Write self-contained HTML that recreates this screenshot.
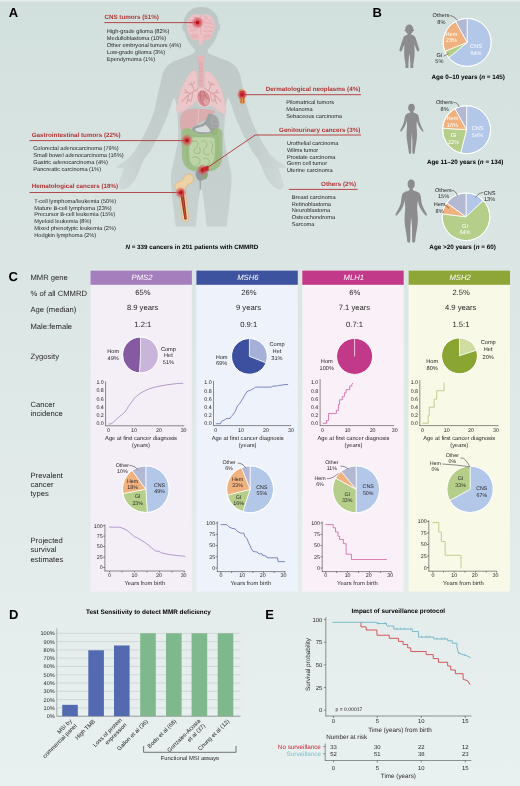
<!DOCTYPE html>
<html lang="en"><head><meta charset="utf-8"><title>CMMRD figure</title>
<style>html,body{margin:0;padding:0;background:#dbe7e5}svg{display:block}svg{font-family:"Liberation Sans",sans-serif;fill:#231f20;text-rendering:geometricPrecision}</style>
</head><body>
<svg width="520" height="786" viewBox="0 0 520 786">
<defs><linearGradient id="bg" x1="0" y1="0" x2="0" y2="1"><stop offset="0" stop-color="#d2e0dd"/><stop offset="0.33" stop-color="#dbe6e4"/><stop offset="1" stop-color="#e9f0f0"/></linearGradient><radialGradient id="tm"><stop offset="0" stop-color="#a80f1c"/><stop offset="0.22" stop-color="#b81824"/><stop offset="0.3" stop-color="#cf3a44" stop-opacity="0.85"/><stop offset="0.55" stop-color="#dc5a62" stop-opacity="0.6"/><stop offset="0.8" stop-color="#e88088" stop-opacity="0.4"/><stop offset="1" stop-color="#f0a0a6" stop-opacity="0"/></radialGradient></defs>
<rect width="520" height="786" fill="url(#bg)"/>
<rect width="520" height="1.5" fill="#e6eeec"/>
<text x="8.80" y="17.30" font-size="13" font-weight="bold" fill="#000">A</text>
<defs><radialGradient id="bodyg" gradientUnits="userSpaceOnUse" cx="201.2" cy="120" r="92" gradientTransform="translate(0 120) scale(1 6) translate(0 -120)"><stop offset="0" stop-color="#c7d1d0"/><stop offset="0.62" stop-color="#c8d2d1"/><stop offset="0.95" stop-color="#d2dcdb"/></radialGradient></defs>
<path d="M201.2,6.9 C211.0,6.8 218.0,13.0 218.6,22.0 C218.7,22.5 218.7,23.0 218.7,23.4 C219.8,23.2 220.4,24.8 220.2,27.0 C220.0,29.5 219.2,31.2 218.0,31.3 C217.2,36.0 215.0,41.0 212.0,44.8 C210.6,46.6 209.0,48.2 207.6,49.4 L207.6,52.2 C210.5,55.0 219.0,57.5 226.7,60.5 C230.5,62.0 234.0,64.5 236.4,67.5 C238.8,70.5 240.4,75.0 241.2,80.0 C242.5,86.0 243.6,90.0 244.6,94.2 C245.5,99.0 246.4,103.0 247.4,107.7 C248.6,112.5 250.2,117.0 252.0,121.2 C253.6,125.0 255.4,129.0 257.3,132.7 C258.8,136.0 260.6,139.2 262.5,142.3 C264.4,145.6 266.2,148.8 268.5,151.9 C270.5,154.5 273.0,157.5 276.9,160.6 C279.5,162.5 283.0,164.5 285.6,166.0 C286.2,166.8 285.4,167.8 284.4,167.7 C282.0,168.2 280.0,168.0 278.4,167.7 C279.4,170.0 280.0,172.5 280.6,174.8 C281.6,177.5 282.6,180.0 283.3,182.7 C284.0,185.0 283.8,187.5 282.7,188.6 C281.8,189.8 280.6,190.0 279.6,189.6 C277.8,189.2 276.0,188.4 274.4,187.3 C273.0,186.4 272.0,185.2 271.0,183.8 C270.0,183.0 269.4,182.4 268.8,181.5 C267.4,179.6 266.4,177.8 265.4,175.8 C264.0,173.0 263.0,170.4 262.0,167.7 C260.8,165.0 259.8,162.2 258.5,159.6 C256.5,157.0 254.5,154.2 252.2,151.5 C250.8,148.8 249.4,146.0 248.0,143.5 C247.0,141.8 246.2,140.2 245.2,138.5 C243.2,134.8 241.4,130.8 239.8,126.9 C238.0,123.0 236.4,119.2 234.8,115.4 C233.4,111.5 232.0,107.0 230.6,102.5 C230.0,100.5 229.0,98.5 228.2,97.5 C227.0,100.0 226.0,103.5 225.4,106.5 C225.0,110.5 224.9,114.0 224.8,118.0 C224.6,122.0 224.2,126.0 224.2,129.6 C224.2,133.5 224.2,137.5 224.6,141.0 C225.0,145.0 226.0,149.0 226.9,152.7 C227.8,156.5 228.6,160.5 229.2,164.0 C230.0,167.0 230.8,170.0 231.2,173.0 C231.6,178.0 231.6,181.0 231.4,184.0 C230.8,192.0 229.8,200.0 229.0,208.0 C228.2,215.0 227.3,221.0 226.8,226.4 L206.7,226.4 C205.8,218.0 204.8,209.0 203.8,201.0 C203.1,195.5 202.2,190.5 201.2,187.6 C200.2,190.5 199.3,195.5 198.6,201.0 C197.6,209.0 196.6,218.0 195.7,226.4 L175.6,226.4 C175.1,221.0 174.2,215.0 173.4,208.0 C172.6,200.0 171.6,192.0 171.0,184.0 C170.8,181.0 170.8,178.0 171.2,173.0 C171.6,170.0 172.4,167.0 173.2,164.0 C173.8,160.5 174.6,156.5 175.5,152.7 C176.4,149.0 177.4,145.0 177.8,141.0 C178.2,137.5 178.2,133.5 178.2,129.6 C178.2,126.0 177.8,122.0 177.6,118.0 C177.5,114.0 177.4,110.5 177.0,106.5 C176.4,103.5 175.4,100.0 174.2,97.5 C173.4,98.5 172.4,100.5 171.8,102.5 C170.4,107.0 169.0,111.5 167.6,115.4 C166.0,119.2 164.4,123.0 162.6,126.9 C161.0,130.8 159.2,134.8 157.2,138.5 C156.2,140.2 155.4,141.8 154.4,143.5 C153.0,146.0 151.6,148.8 150.2,151.5 C147.9,154.2 145.9,157.0 143.9,159.6 C142.6,162.2 141.6,165.0 140.4,167.7 C139.4,170.4 138.4,173.0 137.0,175.8 C136.0,177.8 135.0,179.6 133.6,181.5 C133.0,182.4 132.4,183.0 131.4,183.8 C130.4,185.2 129.4,186.4 128.0,187.3 C126.4,188.4 124.6,189.2 122.8,189.6 C121.8,190.0 120.6,189.8 119.7,188.6 C118.6,187.5 118.4,185.0 119.1,182.7 C119.8,180.0 120.8,177.5 121.8,174.8 C122.4,172.5 123.0,170.0 124.0,167.7 C122.4,168.0 120.4,168.2 118.0,167.7 C117.0,167.8 116.2,166.8 116.8,166.0 C119.4,164.5 122.9,162.5 125.5,160.6 C129.4,157.5 131.9,154.5 133.9,151.9 C136.2,148.8 138.0,145.6 139.9,142.3 C141.8,139.2 143.6,136.0 145.1,132.7 C147.0,129.0 148.8,125.0 150.4,121.2 C152.2,117.0 153.8,112.5 155.0,107.7 C156.0,103.0 156.9,99.0 157.8,94.2 C158.8,90.0 159.9,86.0 161.2,80.0 C162.0,75.0 163.6,70.5 166.0,67.5 C168.4,64.5 171.9,62.0 175.7,60.5 C183.4,57.5 191.9,55.0 194.8,52.2 L194.8,49.4 C193.4,48.2 191.8,46.6 190.4,44.8 C187.4,41.0 185.2,36.0 184.4,31.3 C183.2,31.2 182.4,29.5 182.2,27.0 C182.0,24.8 182.6,23.2 183.7,23.4 C183.7,23.0 183.7,22.5 183.8,22.0 C184.4,13.0 191.4,6.8 201.2,6.9 Z" fill="url(#bodyg)"/>
<defs><linearGradient id="bodyv" gradientUnits="userSpaceOnUse" x1="0" y1="5" x2="0" y2="227"><stop offset="0" stop-color="#5a6665" stop-opacity="0.1"/><stop offset="0.55" stop-color="#5a6665" stop-opacity="0.04"/><stop offset="1" stop-color="#5a6665" stop-opacity="0"/></linearGradient></defs>
<path d="M201.2,6.9 C211.0,6.8 218.0,13.0 218.6,22.0 C218.7,22.5 218.7,23.0 218.7,23.4 C219.8,23.2 220.4,24.8 220.2,27.0 C220.0,29.5 219.2,31.2 218.0,31.3 C217.2,36.0 215.0,41.0 212.0,44.8 C210.6,46.6 209.0,48.2 207.6,49.4 L207.6,52.2 C210.5,55.0 219.0,57.5 226.7,60.5 C230.5,62.0 234.0,64.5 236.4,67.5 C238.8,70.5 240.4,75.0 241.2,80.0 C242.5,86.0 243.6,90.0 244.6,94.2 C245.5,99.0 246.4,103.0 247.4,107.7 C248.6,112.5 250.2,117.0 252.0,121.2 C253.6,125.0 255.4,129.0 257.3,132.7 C258.8,136.0 260.6,139.2 262.5,142.3 C264.4,145.6 266.2,148.8 268.5,151.9 C270.5,154.5 273.0,157.5 276.9,160.6 C279.5,162.5 283.0,164.5 285.6,166.0 C286.2,166.8 285.4,167.8 284.4,167.7 C282.0,168.2 280.0,168.0 278.4,167.7 C279.4,170.0 280.0,172.5 280.6,174.8 C281.6,177.5 282.6,180.0 283.3,182.7 C284.0,185.0 283.8,187.5 282.7,188.6 C281.8,189.8 280.6,190.0 279.6,189.6 C277.8,189.2 276.0,188.4 274.4,187.3 C273.0,186.4 272.0,185.2 271.0,183.8 C270.0,183.0 269.4,182.4 268.8,181.5 C267.4,179.6 266.4,177.8 265.4,175.8 C264.0,173.0 263.0,170.4 262.0,167.7 C260.8,165.0 259.8,162.2 258.5,159.6 C256.5,157.0 254.5,154.2 252.2,151.5 C250.8,148.8 249.4,146.0 248.0,143.5 C247.0,141.8 246.2,140.2 245.2,138.5 C243.2,134.8 241.4,130.8 239.8,126.9 C238.0,123.0 236.4,119.2 234.8,115.4 C233.4,111.5 232.0,107.0 230.6,102.5 C230.0,100.5 229.0,98.5 228.2,97.5 C227.0,100.0 226.0,103.5 225.4,106.5 C225.0,110.5 224.9,114.0 224.8,118.0 C224.6,122.0 224.2,126.0 224.2,129.6 C224.2,133.5 224.2,137.5 224.6,141.0 C225.0,145.0 226.0,149.0 226.9,152.7 C227.8,156.5 228.6,160.5 229.2,164.0 C230.0,167.0 230.8,170.0 231.2,173.0 C231.6,178.0 231.6,181.0 231.4,184.0 C230.8,192.0 229.8,200.0 229.0,208.0 C228.2,215.0 227.3,221.0 226.8,226.4 L206.7,226.4 C205.8,218.0 204.8,209.0 203.8,201.0 C203.1,195.5 202.2,190.5 201.2,187.6 C200.2,190.5 199.3,195.5 198.6,201.0 C197.6,209.0 196.6,218.0 195.7,226.4 L175.6,226.4 C175.1,221.0 174.2,215.0 173.4,208.0 C172.6,200.0 171.6,192.0 171.0,184.0 C170.8,181.0 170.8,178.0 171.2,173.0 C171.6,170.0 172.4,167.0 173.2,164.0 C173.8,160.5 174.6,156.5 175.5,152.7 C176.4,149.0 177.4,145.0 177.8,141.0 C178.2,137.5 178.2,133.5 178.2,129.6 C178.2,126.0 177.8,122.0 177.6,118.0 C177.5,114.0 177.4,110.5 177.0,106.5 C176.4,103.5 175.4,100.0 174.2,97.5 C173.4,98.5 172.4,100.5 171.8,102.5 C170.4,107.0 169.0,111.5 167.6,115.4 C166.0,119.2 164.4,123.0 162.6,126.9 C161.0,130.8 159.2,134.8 157.2,138.5 C156.2,140.2 155.4,141.8 154.4,143.5 C153.0,146.0 151.6,148.8 150.2,151.5 C147.9,154.2 145.9,157.0 143.9,159.6 C142.6,162.2 141.6,165.0 140.4,167.7 C139.4,170.4 138.4,173.0 137.0,175.8 C136.0,177.8 135.0,179.6 133.6,181.5 C133.0,182.4 132.4,183.0 131.4,183.8 C130.4,185.2 129.4,186.4 128.0,187.3 C126.4,188.4 124.6,189.2 122.8,189.6 C121.8,190.0 120.6,189.8 119.7,188.6 C118.6,187.5 118.4,185.0 119.1,182.7 C119.8,180.0 120.8,177.5 121.8,174.8 C122.4,172.5 123.0,170.0 124.0,167.7 C122.4,168.0 120.4,168.2 118.0,167.7 C117.0,167.8 116.2,166.8 116.8,166.0 C119.4,164.5 122.9,162.5 125.5,160.6 C129.4,157.5 131.9,154.5 133.9,151.9 C136.2,148.8 138.0,145.6 139.9,142.3 C141.8,139.2 143.6,136.0 145.1,132.7 C147.0,129.0 148.8,125.0 150.4,121.2 C152.2,117.0 153.8,112.5 155.0,107.7 C156.0,103.0 156.9,99.0 157.8,94.2 C158.8,90.0 159.9,86.0 161.2,80.0 C162.0,75.0 163.6,70.5 166.0,67.5 C168.4,64.5 171.9,62.0 175.7,60.5 C183.4,57.5 191.9,55.0 194.8,52.2 L194.8,49.4 C193.4,48.2 191.8,46.6 190.4,44.8 C187.4,41.0 185.2,36.0 184.4,31.3 C183.2,31.2 182.4,29.5 182.2,27.0 C182.0,24.8 182.6,23.2 183.7,23.4 C183.7,23.0 183.7,22.5 183.8,22.0 C184.4,13.0 191.4,6.8 201.2,6.9 Z" fill="url(#bodyv)"/>
<g><path d="M200.7,16 C199.6,14.4 197,13.8 195,14.6 C192.8,14.6 190.8,15.8 190,17.6 C188.2,18.6 187.2,20.6 187.4,22.6 C186.4,24.4 186.4,26.8 187.2,28.6 C187,30.6 187.8,32.6 189.2,33.8 C189.4,35.8 190.6,37.6 192.4,38.4 C193.8,39.8 196,40.4 198,39.8 L198.6,39.6 L199.2,44 C199.4,45.2 202.2,45.2 202.4,44 L203,39.6 L203.6,39.8 C205.6,40.4 207.8,39.8 209.2,38.4 C211,37.6 212.2,35.8 212.4,33.8 C213.8,32.6 214.6,30.6 214.4,28.6 C215.2,26.8 215.2,24.4 214.2,22.6 C214.4,20.6 213.4,18.6 211.6,17.6 C210.8,15.8 208.8,14.6 206.6,14.6 C204.6,13.8 201.8,14.4 200.7,16 Z" fill="#edc2c6"/><path d="M190.2,34.2 C192.5,32.6 196.4,33 198.6,34.6 L198.8,39.4 C196,40.6 192,39.6 190.2,37 Z M211.4,34.2 C209.1,32.6 205.2,33 203,34.6 L202.8,39.4 C205.600,40.6 209.6,39.6 211.4,37 Z" fill="#ebb9bd"/><path d="M198.7,35 L202.9,35 L202.4,44 C202.2,45.2 199.4,45.2 199.2,44 Z" fill="#eec0c3"/><path d="M200.7,16 C200.3,21 201,28 200.8,34.5 M189.5,20.5 C192,21.5 193.5,20 195.5,21.5 M205,18 C207,20.5 209.5,19.5 211.5,22 M188,26.5 C190.5,25.5 192.5,27.5 194.5,26 M206,26 C208.5,28 210.5,26 213.5,28 M193,16.5 C194,18.5 196.5,17.5 197.5,20 M204,22.5 C206,23.5 207.5,22 209,24 M189.5,31 C191.5,30 193,31.5 195.5,30.5 M206.500,31 C208.500,32 210,30.500 212,32 M196,24.500 C197,26 198.500,25.500 199.500,27.500 M202.500,29 C204,29.500 204.500,31.500 206,32 M191,35.5 C193,36.500 195,35.500 197,37 M204.500,37 C206.500,35.500 208.500,36.500 210.500,35.5 M190,23.5 C192,24 193.5,23 195.5,24.5 M203.5,15.5 C204.5,17.5 206.5,16.5 208,18.5 M208,23 C210,22.5 211.5,24 213.5,24.5 M191.5,28.5 C193.5,29.5 195.5,28 197.5,30 M203,25.5 C204.5,26.5 205,28 207,28.5 M196.5,18 C197.5,19 198.5,18.5 199.5,20.5 M209.5,30.5 C211,30 212,31.5 213.5,31.5 M202.5,19.5 C203.5,21 205,20.5 206,22" fill="none" stroke="#e0a3aa" stroke-width="0.7" stroke-linecap="round"/></g>
<path d="M196.9,55.2 L198.3,55.8 L199.4,55.2 L200.800,55.900 L202.200,55.2 L203.4,55.8 L204.75,55.2 C204.6,57.6 203.8,59.8 203.1,61.4 L203.1,84.8 C203.1,86.4 204.4,87.8 206,88.8 L204.6,90.4 L201.2,87.8 L198,90.8 L196.4,89.4 C197.9,87.900 198.750,86.400 198.750,84.800 L198.75,61.4 C197.900,59.800 197.100,57.600 196.9,55.2 Z" fill="#e8b4b9"/>
<path d="M198.75,62.6 L203.1,62.6 M198.75,64.8 L203.1,64.8 M198.75,67.1 L203.1,67.1 M198.75,69.3 L203.1,69.3 M198.75,71.6 L203.1,71.6 M198.75,73.8 L203.1,73.8 M198.75,76.1 L203.1,76.1 M198.75,78.3 L203.1,78.3 M198.75,80.6 L203.1,80.6 M198.75,82.8 L203.1,82.8 M198.75,85.1 L203.1,85.1" stroke="#dc979e" stroke-width="0.6" fill="none"/>
<path d="M193.4,70 C195.4,70.4 196.8,72.6 197,75.4 C197.4,80 197.5,84 197.5,87.5 C197.5,92 197.3,96 196.9,100 C195.8,102.400 194.200,104 192.5,105 C190,106.8 187.5,108.6 185,110 C182.400,111.500 179.800,112.700 177.5,113.1 C176.6,111 176.6,108.6 176.9,106.25 C177.3,101.800 178.200,97.600 179.4,93.75 C180.800,89.200 182.700,85 185,81.25 C187.200,77.400 190,71.400 193.4,70 Z" fill="#ebc7c9" fill-opacity="0.96" stroke="#e4b6b9" stroke-width="0.5"/>
<path d="M206,71.2 C204.6,72 204.300,73.600 204.4,75 L204.4,86.25 C205.200,88.600 206.400,90.600 207.5,92.5 C208.500,95.800 209.300,99.200 210,102.5 C210.300,103.500 210.700,104.300 211.25,105 C213.200,106.800 215.300,108.500 217.5,110 C219.900,111.900 222.400,113.700 225,115 C225.800,113 225.900,110.900 225.6,108.75 C225.200,104.900 224.600,101.100 223.75,97.5 C222.800,93.500 221.500,89.700 220,86.25 C218.300,82.600 216.200,79.200 213.75,76.25 C211.700,73.800 208.600,70.400 206,71.2 Z" fill="#ebc7c9" fill-opacity="0.96" stroke="#e4b6b9" stroke-width="0.5"/>
<path d="M199,88.5 C196.500,90 193.500,91 190.5,93.5 C188.500,95 186.500,96.500 184.5,99 M194.500,91.2 C193.500,88 192,85 191,82.500 M192.500,84.500 C193.400,83.600 194,82.800 194.5,81.500 M191.800,85 C190.500,84.500 189.500,84.300 188.500,84.500 M190.5,93.5 C188,92.500 186,92.300 184,92.500 M187.500,92.400 C186.800,91.200 186,90.300 185,89.800 M188.500,95.5 C188,98.500 187.500,101 186.500,103.500 M187.800,99 C188.500,100 189.300,100.800 190.300,101.300 M184.5,99 C183.500,99.500 182.500,100.500 182,102 M192.500,92.300 C192.500,95.500 192,98.500 191,101 M204,88.500 C206.500,90 209.500,91 212.5,93.5 C214.500,95 216.500,96.500 218.5,99 M208.500,91.2 C209.500,88 211,85 212,82.500 M210.500,84.500 C209.600,83.600 209,82.800 208.5,81.500 M211.200,85 C212.500,84.500 213.500,84.300 214.500,84.500 M212.5,93.5 C215,92.500 217,92.300 219,92.500 M215.500,92.400 C216.200,91.200 217,90.300 218,89.800 M214.500,95.5 C215,98.500 215.500,101 216.500,103.500 M215.200,99 C214.500,100 213.700,100.800 212.700,101.300 M218.5,99 C219.500,99.500 220.500,100.500 221,102 M210.500,92.300 C210.500,95.500 211,98.500 212,101" fill="none" stroke="#dca2a8" stroke-width="1.05" stroke-linecap="round"/>
<path d="M198.4,88.5 L203.8,88.5 C206,90 208.5,92.5 210,96 C211.5,99.5 211.8,103 211.2,105.6 C208.5,107 204.5,107.4 201.5,106.6 C199,105.8 197.4,103.5 196.9,100.5 C196.9,96 197.4,92 198.4,88.5 Z" fill="#ecccce"/>
<path d="M200.600,90.600 C202.400,89.800 204.600,90.400 206.200,91.800 C208.400,93.600 209.800,96.400 210,99.400 C210.200,102.200 209,104.800 206.800,105.900 C204.600,106.900 202,106 200.200,104.200 C198.400,102.200 197.400,99.400 197.500,96.600 C197.600,94 198.600,91.600 200.600,90.600 Z" fill="#d58d92"/>
<path d="M201.2,91 C199.800,93.500 200,97 201.200,100.500 C202,102.800 203.500,104.800 205.500,105.800 M203.500,90.800 C204.500,93.500 205.500,96.500 207.500,98.500 M198.500,95 C200.500,96 203.500,96.500 206,95.500 M202.500,98 C204.500,99.500 206.500,101.500 207.500,104" fill="none" stroke="#bf6770" stroke-width="0.7"/>
<path d="M205.500,98.500 C207.500,98.600 209,100.200 209,102.200 C208.800,104.200 207.200,105.600 205.400,105.400 C204,104.600 203.400,102.800 203.800,101 C204,99.800 204.600,98.900 205.500,98.500 Z" fill="#dfa3a7"/>
<path d="M180.200,119 C180.400,113.500 184.500,109.800 190,109.200 C196,108.600 203,108.600 209,109.400 C211.500,109.700 213.800,110.300 215,111.250 C214.200,114 211.800,116.400 208.800,118 C205.800,119.800 202.400,121 200,122.500 C196.500,124.800 192.800,127.600 189.200,129.600 C186.600,131 183.600,131.800 181.25,131.25 C180.200,128 180,123.500 180.200,119 Z" fill="#dba9ab" fill-opacity="0.93"/>
<path d="M198.4,108.800 C198.900,112.500 198.500,117.500 197.400,124" fill="none" stroke="#efd0d0" stroke-width="0.5"/>
<path d="M208.500,113.800 C213.500,113.600 217.600,117 218.600,122 C219.600,127 217.800,131.600 213.800,133.400 C209,135.200 201.500,135 196,133.400 C192.800,132.400 191.400,130.200 192.200,128 C194,125.200 199,125.400 202.800,123.400 C206.200,121.400 206.800,117 208.500,113.800 Z" fill="#9ca2a2"/>
<path d="M205.500,124.800 C203,127.200 198.500,127.200 195.500,128.600 C194.600,129.400 195.200,130.600 196.600,131.200 C201,132.600 207,132.800 210.600,131.400 C209.600,129 207.600,126.600 205.500,124.800 Z" fill="#d6dcdb"/>
<ellipse cx="214.800" cy="123" rx="4.400" ry="8.200" fill="#a9aaaa" fill-opacity="0.85" transform="rotate(-8 214.8 123)"/>
<path d="M212.500,117.500 C214,118.500 215.500,118 216.500,119.500 M212,121.500 C214,122 215.500,121 217.500,122.500 M212.500,125.500 C214,126.500 216,125.500 217.500,127 M213,129 C214.500,129.500 216,129 217,130" fill="none" stroke="#8d9090" stroke-width="0.5"/>
<path d="M183.500,129 C186,127.400 189.500,127.800 192,129.800 C193.500,131.800 196.500,133.200 200,133.800 C204,134.400 208.500,134 212,132.600 C213.200,130 216,128.200 218.800,128.400 C221.400,128.800 222.600,131.200 222.400,134 C222.600,139 222.200,144 222.400,149 C222.600,154 222.400,159 221,163.500 C219.400,167.400 215.800,170 211.800,171 C208.600,171.700 205.400,171.400 202.600,170.400 C199.800,171.600 196.200,171.800 193.200,171 C188.800,169.600 185,167 183.400,163 C181.800,158.600 182,153.600 181.800,149 C181.600,144 181.200,139 181.400,134.200 C181.400,132.200 182,130.200 183.500,129 Z" fill="#9fbd88"/>
<path d="M190.500,138.500 C193,136.500 198,137.500 203,137.300 C207.500,137.100 211.500,136.800 214,138.200 C215.200,143 215.200,152 214.200,159 C213.400,162.400 211,165.200 208,166.200 C204,167.400 199,167.400 195,166.200 C192,165 190,162 189.600,158.500 C189,152 189.200,144 190.500,138.500 Z" fill="#bdd4a7"/>
<path d="M187.800,134 C191,135.800 196,136.400 201,136.400 C206.500,136.400 212.500,135.600 216.800,133.400 M186.800,138 C186.400,146 186.400,156 188,164 M217.500,137 C218,146 218,155 216.200,163 M192.500,141.500 C195,140 198,141 198,144 C198,147 194.500,147.500 194,150.500 C193.600,153.500 197,154.500 199.500,153 M202,141 C204.500,140 207,141.500 207,144.500 C207,147.500 203.500,148.500 203.500,151.500 C203.500,154.500 207,155.500 209.500,154 M210.500,141.500 C212.500,142 213.500,145 212.400,147.500 C211.200,150 211.600,153 213.200,154.500 M193,157.500 C196,156 199.500,157.500 200,160.500 C200.500,163.500 197.500,164.500 196,166 M203.500,158.500 C206.500,157.500 209.500,159.500 209.500,162.500 C209.500,164.500 207.500,165.500 206,166.500 M199.500,147.500 C200.500,149.500 200.500,151.500 199.500,153.500" fill="none" stroke="#95b47b" stroke-width="0.8" stroke-linecap="round"/>
<ellipse cx="214.600" cy="131.600" rx="3.800" ry="3.600" fill="#8fae79" fill-opacity="0.55"/>
<path d="M196.400,171.200 C198.500,169.600 205,169.600 207.200,171.200 C208.600,173.600 208,177 205.800,178.800 C204.200,180 201.800,180.400 200.800,181 L200.600,190 L199.800,190 L199.600,181 C198.600,180.400 197.800,179.600 196.800,178.200 C195.400,176 195.200,173.200 196.400,171.200 Z" fill="#959a9a"/>
<path d="M204.400,172.500 C206.800,173 207.800,175.400 206.800,177.400 C205.800,179.200 203.800,179.600 202.600,178.400 C201.800,176.400 202.600,173.600 204.400,172.500 Z" fill="#8aa878"/>
<path d="M186.600,174.400 C189.400,173.200 192.600,174.600 193.400,177.400 C194.200,180.200 192.600,183 189.800,183.800 C187.800,184.400 186.400,185.800 185.600,188 C185.200,190 185.400,192.400 185.800,195 C186.800,202 187.800,209 188.600,215.500 C188.900,218 189,220 188,221 C186.800,222 184.400,222 183.400,221 C182.400,220 182.200,218 181.900,215.500 C181.100,209 180.200,202 179.200,195.500 C178.800,193 177.400,191.600 176,190 C174.200,188 174.200,185 176.200,183.200 C177.800,181.800 180,181.800 181.600,180.600 C183.400,179.200 184.200,175.600 186.600,174.400 Z" fill="#ecd2a4" stroke="#dcae70" stroke-width="0.6"/>
<path d="M180.400,190.500 C181.600,189.300 183.400,189.800 183.600,191.500 L186.800,218.500 C186.900,219.900 184.500,220.100 184.300,218.700 L180.200,193.500 C180,192.300 179.900,191.200 180.400,190.500 Z" fill="#9b2a22"/>
<path d="M182,192.500 L185.500,218.500" stroke="#dc8e48" stroke-width="0.5" fill="none"/>
<path d="M239,89.8 C241,88.8 244,89.2 245,91 C245.600,94 245,98 244.800,101.500 C244.600,103 244.200,104.200 242.800,104.300 C241,104.300 239.800,103.400 239.600,101.500 C239.200,98 238.200,93 239,89.800 Z" fill="#e0a058"/>
<path d="M240.600,97 C241.200,98 241.400,100.500 241,103 M243.600,97 C243.200,99 243.400,101.500 243.800,103" stroke="#c5362c" stroke-width="0.8" fill="none"/>
<rect x="239.800" y="91" width="4.800" height="6" fill="#c62828"/>
<line x1="104.30" y1="22.60" x2="197.60" y2="22.60" stroke="#b23534" stroke-width="0.9"/>
<circle cx="197.6" cy="22.6" r="6.2" fill="url(#tm)"/>
<circle cx="197.6" cy="22.6" r="3.22" fill="none" stroke="#b3202a" stroke-opacity="0.5" stroke-width="0.5"/>
<circle cx="197.6" cy="22.6" r="4.34" fill="none" stroke="#b3202a" stroke-opacity="0.36" stroke-width="0.5"/>
<circle cx="197.6" cy="22.6" r="5.46" fill="none" stroke="#b3202a" stroke-opacity="0.22" stroke-width="0.5"/>
<circle cx="197.6" cy="22.6" r="1.7" fill="#c0141c"/>
<line x1="29.50" y1="140.60" x2="187.30" y2="140.60" stroke="#b23534" stroke-width="0.9"/>
<circle cx="186.9" cy="140.4" r="6.2" fill="url(#tm)"/>
<circle cx="186.9" cy="140.4" r="3.22" fill="none" stroke="#b3202a" stroke-opacity="0.5" stroke-width="0.5"/>
<circle cx="186.9" cy="140.4" r="4.34" fill="none" stroke="#b3202a" stroke-opacity="0.36" stroke-width="0.5"/>
<circle cx="186.9" cy="140.4" r="5.46" fill="none" stroke="#b3202a" stroke-opacity="0.22" stroke-width="0.5"/>
<circle cx="186.9" cy="140.4" r="1.7" fill="#c0141c"/>
<line x1="29.50" y1="192.50" x2="181.00" y2="192.50" stroke="#b23534" stroke-width="0.9"/>
<circle cx="180.6" cy="192.6" r="5.6" fill="url(#tm)"/>
<circle cx="180.6" cy="192.6" r="2.91" fill="none" stroke="#b3202a" stroke-opacity="0.5" stroke-width="0.5"/>
<circle cx="180.6" cy="192.6" r="3.92" fill="none" stroke="#b3202a" stroke-opacity="0.36" stroke-width="0.5"/>
<circle cx="180.6" cy="192.6" r="4.93" fill="none" stroke="#b3202a" stroke-opacity="0.22" stroke-width="0.5"/>
<circle cx="180.6" cy="192.6" r="1.7" fill="#c0141c"/>
<circle cx="242.2" cy="94.6" r="5.4" fill="url(#tm)"/>
<circle cx="242.2" cy="94.6" r="2.81" fill="none" stroke="#b3202a" stroke-opacity="0.5" stroke-width="0.5"/>
<circle cx="242.2" cy="94.6" r="3.78" fill="none" stroke="#b3202a" stroke-opacity="0.36" stroke-width="0.5"/>
<circle cx="242.2" cy="94.6" r="4.75" fill="none" stroke="#b3202a" stroke-opacity="0.22" stroke-width="0.5"/>
<circle cx="242.2" cy="94.6" r="1.7" fill="#c0141c"/>
<line x1="242.00" y1="94.70" x2="361.00" y2="94.70" stroke="#b23534" stroke-width="0.9"/>
<circle cx="202.6" cy="170" r="5.8" fill="url(#tm)"/>
<circle cx="202.6" cy="170" r="3.02" fill="none" stroke="#b3202a" stroke-opacity="0.5" stroke-width="0.5"/>
<circle cx="202.6" cy="170" r="4.06" fill="none" stroke="#b3202a" stroke-opacity="0.36" stroke-width="0.5"/>
<circle cx="202.6" cy="170" r="5.10" fill="none" stroke="#b3202a" stroke-opacity="0.22" stroke-width="0.5"/>
<circle cx="202.6" cy="170" r="1.7" fill="#c0141c"/>
<polyline points="205.60,168.80 255.20,135.00 361.00,135.00" fill="none" stroke="#b23534" stroke-width="0.9"/>
<path d="M203,167.400 L208.400,165.600 L208.800,170.600 L203.200,171.400 Z" fill="#c4272d"/>
<line x1="288.80" y1="189.40" x2="357.60" y2="189.40" stroke="#b23534" stroke-width="0.9"/>
<text x="104.40" y="19.30" font-size="6.25" font-weight="bold" fill="#b23534">CNS tumors (51%)</text>
<text x="106.80" y="33.00" font-size="5.65">High-grade glioma (82%)</text>
<text x="106.80" y="40.00" font-size="5.65">Medulloblastoma (10%)</text>
<text x="106.80" y="47.00" font-size="5.65">Other embryonal tumors (4%)</text>
<text x="106.80" y="54.00" font-size="5.65">Low-grade glioma (3%)</text>
<text x="106.80" y="60.70" font-size="5.65">Ependymoma (1%)</text>
<text x="31.70" y="136.70" font-size="6.25" font-weight="bold" fill="#b23534">Gastrointestinal tumors (22%)</text>
<text x="33.30" y="150.30" font-size="5.65">Colorectal adenocarcinoma (79%)</text>
<text x="33.30" y="157.30" font-size="5.65">Small bowel adenocarcinoma (16%)</text>
<text x="33.30" y="164.20" font-size="5.65">Gastric adenocarcinoma (4%)</text>
<text x="33.30" y="171.10" font-size="5.65">Pancreatic carcinoma (1%)</text>
<text x="31.70" y="188.10" font-size="6.25" font-weight="bold" fill="#b23534">Hematological cancers (18%)</text>
<text x="34.30" y="202.60" font-size="5.65">T-cell lymphoma/leukemia (50%)</text>
<text x="34.30" y="209.52" font-size="5.65">Mature B-cell lymphoma (23%)</text>
<text x="34.30" y="216.44" font-size="5.65">Precursor B-cell leukemia (15%)</text>
<text x="34.30" y="223.36" font-size="5.65">Myeloid leukemia (8%)</text>
<text x="34.30" y="230.28" font-size="5.65">Mixed phenotypic leukemia (2%)</text>
<text x="34.30" y="237.20" font-size="5.65">Hodgkin lymphoma (2%)</text>
<text x="360.30" y="91.20" font-size="6.25" font-weight="bold" text-anchor="end" fill="#b23534">Dermatological neoplasms (4%)</text>
<text x="286.20" y="103.70" font-size="5.65">Pilomatrical tumors</text>
<text x="286.20" y="110.70" font-size="5.65">Melanoma</text>
<text x="286.20" y="117.70" font-size="5.65">Sebaceous carcinoma</text>
<text x="360.30" y="131.80" font-size="6.25" font-weight="bold" text-anchor="end" fill="#b23534">Genitourinary cancers (3%)</text>
<text x="286.90" y="144.80" font-size="5.65">Urothelial carcinoma</text>
<text x="286.90" y="151.80" font-size="5.65">Wilms tumor</text>
<text x="286.90" y="158.70" font-size="5.65">Prostate carcinoma</text>
<text x="286.90" y="165.30" font-size="5.65">Germ cell tumor</text>
<text x="286.90" y="172.20" font-size="5.65">Uterine carcinoma</text>
<text x="356.20" y="186.20" font-size="6.25" font-weight="bold" text-anchor="end" fill="#b23534">Others (2%)</text>
<text x="291.80" y="198.60" font-size="5.65">Breast carcinoma</text>
<text x="291.80" y="205.60" font-size="5.65">Retinoblastoma</text>
<text x="291.80" y="212.30" font-size="5.65">Neuroblastoma</text>
<text x="291.80" y="219.20" font-size="5.65">Osteochondroma</text>
<text x="291.80" y="226.10" font-size="5.65">Sarcoma</text>
<text x="125.40" y="248.70" font-size="6.27" font-weight="bold" fill="#000"><tspan font-style="italic">N</tspan> = 339 cancers in 201 patients with CMMRD</text>
<text x="372.50" y="17.10" font-size="13" font-weight="bold" fill="#000">B</text>
<g fill="#8c8c8e"><ellipse cx="409.3" cy="29.3" rx="4.05" ry="4.8"/><circle cx="405.3" cy="30.6" r="0.75"/><circle cx="413.3" cy="30.6" r="0.75"/><path d="M409.40,33.00 L411.30,33.40 L411.30,34.80 C413.00,35.20 414.80,35.80 415.60,38.00 C416.80,41.40 418.00,45.20 419.00,48.60 C419.50,49.60 419.50,50.80 418.80,51.30 C418.00,51.70 417.10,51.20 416.70,50.30 C416.00,48.20 415.20,46.20 414.50,44.40 C414.40,47.50 414.70,51.00 414.60,54.00 C414.50,58.00 413.70,61.50 413.20,65.00 C413.60,66.60 413.60,67.90 412.60,68.00 L410.90,68.00 C410.20,67.90 410.20,66.20 410.40,65.00 C410.20,61.00 409.90,57.00 409.60,54.60 L409.40,54.20 Z"/><path d="M409.40,33.00 L407.50,33.40 L407.50,34.80 C405.80,35.20 404.00,35.80 403.20,38.00 C402.00,41.40 400.80,45.20 399.80,48.60 C399.30,49.60 399.30,50.80 400.00,51.30 C400.80,51.70 401.70,51.20 402.10,50.30 C402.80,48.20 403.60,46.20 404.30,44.40 C404.40,47.50 404.10,51.00 404.20,54.00 C404.30,58.00 405.10,61.50 405.60,65.00 C405.20,66.60 405.20,67.90 406.20,68.00 L407.90,68.00 C408.60,67.90 408.60,66.20 408.40,65.00 C408.60,61.00 408.90,57.00 409.20,54.60 L409.40,54.20 Z"/><rect x="408.4" y="33.2" width="2" height="21"/></g>
<g fill="#8c8c8e"><ellipse cx="411.5" cy="107.8" rx="3.3" ry="4"/><path d="M410.4,111 L413.2,111 L413.4,112.6 C415,113.4 417.4,113.6 418.2,115.2 C419,117 419.2,120 419.8,122.6 C420.6,125.6 422.6,128.6 423.4,130.6 C423.6,131.6 422.6,132 422,131.2 C420.6,129.2 418.6,126.6 417.8,124 L417,120.4 C416.8,123 416.4,125 416.6,127.6 C417,131 417.2,135 416.8,138.6 C416.4,143 415.2,148 414.8,152.6 C414.6,154.4 412.6,154.4 412.4,152.8 C412.2,148 412.6,143 412.2,138.6 L411.8,133 L411.4,138.6 C411,143 411.4,148 411.2,152.8 C411,154.4 409,154.4 408.8,152.6 C408.4,148 407.2,143 406.8,138.6 C406.4,135 406.6,131 407,127.6 C407.2,125 406.8,123 406.6,120.4 L405.8,124 C405,126.6 403,129.2 401.6,131.2 C401,132 400,131.6 400.2,130.6 C401,128.6 403,125.6 403.8,122.6 C404.4,120 404.6,117 405.4,115.2 C406.2,113.6 408.6,113.4 410.2,112.6 Z"/></g>
<g fill="#8c8c8e"><ellipse cx="411.2" cy="184" rx="3.6" ry="4.5"/><path d="M409.6,188 L412.8,188 L413,190.2 C415,191.2 418.6,191.6 419.8,193.6 C421,195.8 421,199.6 421.6,203 C422.4,207 425.6,211.4 426.8,214.2 C427.2,215.4 426,216 425.2,215 C423.2,212.6 420.2,208.8 419,205.4 L417.8,200.6 C417.6,203.8 417,206.4 417.2,209.8 C417.6,214.4 418.2,219.4 417.6,224 C417,229.6 415.6,235.4 415.2,241 C415,243.2 412.4,243.2 412.2,241.2 C411.8,235.4 412.4,229.6 411.8,224 L411.2,217 L410.6,224 C410,229.6 410.6,235.4 410.2,241.2 C410,243.2 407.4,243.2 407.2,241 C406.8,235.4 405.4,229.6 404.8,224 C404.2,219.4 404.8,214.4 405.2,209.8 C405.4,206.4 404.8,203.8 404.6,200.6 L403.4,205.4 C402.2,208.8 399.2,212.6 397.2,215 C396.4,216 395.2,215.4 395.6,214.2 C396.8,211.4 400,207 400.8,203 C401.4,199.6 401.4,195.8 402.6,193.6 C403.8,191.6 407.4,191.2 409.4,190.2 Z"/></g>
<path d="M467.20,42.40 L467.20,18.40 A24,24 0 1 1 448.71,57.70 Z" fill="#b3c7e8" stroke="#fff" stroke-width="0.8" stroke-linejoin="round"/>
<path d="M467.20,42.40 L448.71,57.70 A24,24 0 0 1 444.89,51.23 Z" fill="#b5cf8a" stroke="#fff" stroke-width="0.8" stroke-linejoin="round"/>
<path d="M467.20,42.40 L444.89,51.23 A24,24 0 0 1 455.64,21.37 Z" fill="#efb27e" stroke="#fff" stroke-width="0.8" stroke-linejoin="round"/>
<path d="M467.20,42.40 L455.64,21.37 A24,24 0 0 1 467.20,18.40 Z" fill="#b4b9d3" stroke="#fff" stroke-width="0.8" stroke-linejoin="round"/>
<circle cx="467.2" cy="42.4" r="24" fill="none" stroke="#fff" stroke-width="1.0"/>
<text x="476.00" y="47.60" font-size="5.6" text-anchor="middle" fill="#fff">CNS</text>
<text x="476.00" y="54.60" font-size="5.6" text-anchor="middle" fill="#fff">64%</text>
<text x="451.40" y="36.00" font-size="5.6" text-anchor="middle" fill="#fff">Hem</text>
<text x="451.40" y="42.40" font-size="5.6" text-anchor="middle" fill="#fff">23%</text>
<text x="441.00" y="17.40" font-size="5.6" text-anchor="middle">Others</text>
<text x="441.40" y="24.10" font-size="5.6" text-anchor="middle">8%</text>
<text x="439.40" y="56.60" font-size="5.6" text-anchor="middle">GI</text>
<text x="439.40" y="63.30" font-size="5.6" text-anchor="middle">5%</text>
<path d="M449.6,15.6 C453,15.8 455.6,17.6 457.6,20.6" fill="none" stroke="#231f20" stroke-width="0.5"/>
<path d="M443.6,56.2 C445.4,55.4 447,54.6 448.4,53.6" fill="none" stroke="#231f20" stroke-width="0.5"/>
<text x="468.20" y="79.00" font-size="6.3" font-weight="bold" text-anchor="middle" fill="#000">Age 0–10 years (<tspan font-style="italic">n</tspan> = 145)</text>
<path d="M466.60,129.70 L466.60,105.70 A24,24 0 1 1 460.63,152.95 Z" fill="#b3c7e8" stroke="#fff" stroke-width="0.8" stroke-linejoin="round"/>
<path d="M466.60,129.70 L460.63,152.95 A24,24 0 0 1 442.65,128.19 Z" fill="#b5cf8a" stroke="#fff" stroke-width="0.8" stroke-linejoin="round"/>
<path d="M466.60,129.70 L442.65,128.19 A24,24 0 0 1 455.04,108.67 Z" fill="#efb27e" stroke="#fff" stroke-width="0.8" stroke-linejoin="round"/>
<path d="M466.60,129.70 L455.04,108.67 A24,24 0 0 1 466.60,105.70 Z" fill="#b4b9d3" stroke="#fff" stroke-width="0.8" stroke-linejoin="round"/>
<circle cx="466.6" cy="129.7" r="24" fill="none" stroke="#fff" stroke-width="1.0"/>
<text x="477.60" y="130.30" font-size="5.6" text-anchor="middle" fill="#fff">CNS</text>
<text x="477.60" y="137.00" font-size="5.6" text-anchor="middle" fill="#fff">54%</text>
<text x="453.60" y="137.00" font-size="5.6" text-anchor="middle" fill="#fff">GI</text>
<text x="453.60" y="143.60" font-size="5.6" text-anchor="middle" fill="#fff">22%</text>
<text x="452.40" y="120.40" font-size="5.6" text-anchor="middle" fill="#fff">Hem</text>
<text x="452.40" y="127.20" font-size="5.6" text-anchor="middle" fill="#fff">16%</text>
<text x="444.40" y="103.80" font-size="5.6" text-anchor="middle">Others</text>
<text x="444.60" y="110.80" font-size="5.6" text-anchor="middle">8%</text>
<path d="M453.4,102.4 C456.6,102.4 458.2,104 459.2,107" fill="none" stroke="#231f20" stroke-width="0.5"/>
<text x="465.20" y="163.50" font-size="6.3" font-weight="bold" text-anchor="middle" fill="#000">Age 11–20 years (<tspan font-style="italic">n</tspan> = 134)</text>
<path d="M466.00,216.80 L466.00,193.00 A23.8,23.8 0 0 1 483.35,200.51 Z" fill="#b3c7e8" stroke="#fff" stroke-width="0.8" stroke-linejoin="round"/>
<path d="M466.00,216.80 L483.35,200.51 A23.8,23.8 0 1 1 442.39,213.82 Z" fill="#b5cf8a" stroke="#fff" stroke-width="0.8" stroke-linejoin="round"/>
<path d="M466.00,216.80 L442.39,213.82 A23.8,23.8 0 0 1 446.75,202.81 Z" fill="#efb27e" stroke="#fff" stroke-width="0.8" stroke-linejoin="round"/>
<path d="M466.00,216.80 L446.75,202.81 A23.8,23.8 0 0 1 466.00,193.00 Z" fill="#b4b9d3" stroke="#fff" stroke-width="0.8" stroke-linejoin="round"/>
<circle cx="466" cy="216.8" r="23.8" fill="none" stroke="#fff" stroke-width="1.0"/>
<text x="465.00" y="227.60" font-size="5.6" text-anchor="middle" fill="#fff">GI</text>
<text x="465.00" y="234.20" font-size="5.6" text-anchor="middle" fill="#fff">64%</text>
<text x="443.40" y="191.60" font-size="5.6" text-anchor="middle">Others</text>
<text x="443.60" y="198.30" font-size="5.6" text-anchor="middle">15%</text>
<text x="439.60" y="206.30" font-size="5.6" text-anchor="middle">Hem</text>
<text x="439.60" y="213.00" font-size="5.6" text-anchor="middle">8%</text>
<text x="489.60" y="194.50" font-size="5.6" text-anchor="middle">CNS</text>
<text x="489.60" y="201.10" font-size="5.6" text-anchor="middle">13%</text>
<path d="M452,190.4 C455,190.6 456.4,192.6 457.4,195.6" fill="none" stroke="#231f20" stroke-width="0.5"/>
<path d="M445,205.4 C447,205.8 448,207 448.6,208.4" fill="none" stroke="#231f20" stroke-width="0.5"/>
<path d="M483.4,192.6 C480,192.6 477.6,194.4 475.6,197.4" fill="none" stroke="#231f20" stroke-width="0.5"/>
<text x="462.60" y="248.60" font-size="6.3" font-weight="bold" text-anchor="middle" fill="#000">Age &gt;20 years (<tspan font-style="italic">n</tspan> = 60)</text>
<text x="8.60" y="281.20" font-size="13" font-weight="bold" fill="#000">C</text>
<text x="30.50" y="279.80" font-size="7.65">MMR gene</text>
<text x="30.50" y="295.90" font-size="7.65">% of all CMMRD</text>
<text x="30.50" y="311.80" font-size="7.65">Age (median)</text>
<text x="30.50" y="329.20" font-size="7.65">Male:female</text>
<text x="30.50" y="359.20" font-size="7.65">Zygosity</text>
<text x="30.50" y="407.20" font-size="7.65">Cancer</text>
<text x="30.50" y="416.30" font-size="7.65">incidence</text>
<text x="30.50" y="477.60" font-size="7.65">Prevalent</text>
<text x="30.50" y="486.80" font-size="7.65">cancer</text>
<text x="30.50" y="496.00" font-size="7.65">types</text>
<text x="30.50" y="543.20" font-size="7.65">Projected</text>
<text x="30.50" y="552.40" font-size="7.65">survival</text>
<text x="30.50" y="561.60" font-size="7.65">estimates</text>
<rect x="90.5" y="270.6" width="101.4" height="321" fill="#f4eef6"/>
<rect x="90.5" y="270.6" width="101.4" height="14.2" fill="#a57fbd"/>
<text x="142.00" y="280.40" font-size="7.7" text-anchor="middle" font-style="italic" fill="#fff">PMS2</text>
<text x="143.00" y="294.60" font-size="7.65" text-anchor="middle">65%</text>
<text x="142.60" y="309.70" font-size="7.65" text-anchor="middle">8.9 years</text>
<text x="142.80" y="327.40" font-size="7.65" text-anchor="middle">1.2:1</text>
<rect x="196.4" y="270.6" width="101.4" height="321" fill="#eef3fb"/>
<rect x="196.4" y="270.6" width="101.4" height="14.2" fill="#3e53a0"/>
<text x="247.90" y="280.40" font-size="7.7" text-anchor="middle" font-style="italic" fill="#fff">MSH6</text>
<text x="248.90" y="294.60" font-size="7.65" text-anchor="middle">26%</text>
<text x="248.50" y="309.70" font-size="7.65" text-anchor="middle">9 years</text>
<text x="248.70" y="327.40" font-size="7.65" text-anchor="middle">0.9:1</text>
<rect x="302.3" y="270.6" width="101.4" height="321" fill="#f9f1f7"/>
<rect x="302.3" y="270.6" width="101.4" height="14.2" fill="#c3398a"/>
<text x="353.80" y="280.40" font-size="7.7" text-anchor="middle" font-style="italic" fill="#fff">MLH1</text>
<text x="354.80" y="294.60" font-size="7.65" text-anchor="middle">6%</text>
<text x="354.40" y="309.70" font-size="7.65" text-anchor="middle">7.1 years</text>
<text x="354.60" y="327.40" font-size="7.65" text-anchor="middle">0.7:1</text>
<rect x="408.6" y="270.6" width="101.4" height="321" fill="#f8f9e6"/>
<rect x="408.6" y="270.6" width="101.4" height="14.2" fill="#8ea637"/>
<text x="460.10" y="280.40" font-size="7.7" text-anchor="middle" font-style="italic" fill="#fff">MSH2</text>
<text x="461.10" y="294.60" font-size="7.65" text-anchor="middle">2.5%</text>
<text x="460.70" y="309.70" font-size="7.65" text-anchor="middle">4.9 years</text>
<text x="460.90" y="327.40" font-size="7.65" text-anchor="middle">1.5:1</text>
<path d="M140.50,355.00 L140.50,337.00 A18,18 0 1 1 139.37,372.96 Z" fill="#c9b5da" stroke="#fff" stroke-width="0.7" stroke-linejoin="round"/>
<path d="M140.50,355.00 L139.37,372.96 A18,18 0 0 1 140.50,337.00 Z" fill="#865aa3" stroke="#fff" stroke-width="0.7" stroke-linejoin="round"/>
<circle cx="140.5" cy="355" r="18" fill="none" stroke="#fff" stroke-width="0.8999999999999999"/>
<text x="113.20" y="353.30" font-size="5.65" text-anchor="middle">Hom</text>
<text x="113.20" y="360.05" font-size="5.65" text-anchor="middle">49%</text>
<text x="168.40" y="350.50" font-size="5.65" text-anchor="middle">Comp</text>
<text x="168.40" y="357.40" font-size="5.65" text-anchor="middle">Het</text>
<text x="168.40" y="364.30" font-size="5.65" text-anchor="middle">51%</text>
<path d="M249.40,356.40 L249.40,338.40 A18,18 0 0 1 266.14,363.03 Z" fill="#a5b1d9" stroke="#fff" stroke-width="0.7" stroke-linejoin="round"/>
<path d="M249.40,356.40 L266.14,363.03 A18,18 0 1 1 249.40,338.40 Z" fill="#3d509f" stroke="#fff" stroke-width="0.7" stroke-linejoin="round"/>
<circle cx="249.4" cy="356.4" r="18" fill="none" stroke="#fff" stroke-width="0.8999999999999999"/>
<text x="221.60" y="358.60" font-size="5.65" text-anchor="middle">Hom</text>
<text x="221.60" y="365.35" font-size="5.65" text-anchor="middle">69%</text>
<text x="277.00" y="346.30" font-size="5.65" text-anchor="middle">Comp</text>
<text x="277.00" y="353.20" font-size="5.65" text-anchor="middle">Het</text>
<text x="277.00" y="360.10" font-size="5.65" text-anchor="middle">31%</text>
<circle cx="354.6" cy="356.4" r="18" fill="#c3398a"/>
<circle cx="354.6" cy="356.4" r="18" fill="none" stroke="#fff" stroke-width="0.8999999999999999"/>
<line x1="354.60" y1="356.40" x2="354.60" y2="338.40" stroke="#fff" stroke-width="0.7"/>
<text x="326.80" y="363.20" font-size="5.65" text-anchor="middle">Hom</text>
<text x="326.80" y="370.20" font-size="5.65" text-anchor="middle">100%</text>
<path d="M459.50,355.80 L459.50,337.80 A18,18 0 0 1 476.62,350.24 Z" fill="#d0dca1" stroke="#fff" stroke-width="0.7" stroke-linejoin="round"/>
<path d="M459.50,355.80 L476.62,350.24 A18,18 0 1 1 459.50,337.80 Z" fill="#8aa532" stroke="#fff" stroke-width="0.7" stroke-linejoin="round"/>
<circle cx="459.5" cy="355.8" r="18" fill="none" stroke="#fff" stroke-width="0.8999999999999999"/>
<text x="432.20" y="363.20" font-size="5.65" text-anchor="middle">Hom</text>
<text x="432.20" y="370.20" font-size="5.65" text-anchor="middle">80%</text>
<text x="488.20" y="344.20" font-size="5.65" text-anchor="middle">Comp</text>
<text x="488.20" y="351.40" font-size="5.65" text-anchor="middle">Het</text>
<text x="488.20" y="358.60" font-size="5.65" text-anchor="middle">20%</text>
<line x1="105.60" y1="381.30" x2="105.60" y2="426.05" stroke="#231f20" stroke-width="0.5"/>
<line x1="105.35" y1="425.80" x2="184.30" y2="425.80" stroke="#231f20" stroke-width="0.5"/>
<text x="103.80" y="425.10" font-size="5.3" text-anchor="end">0.0</text>
<text x="103.80" y="416.94" font-size="5.3" text-anchor="end">0.2</text>
<text x="103.80" y="408.78" font-size="5.3" text-anchor="end">0.4</text>
<text x="103.80" y="400.62" font-size="5.3" text-anchor="end">0.6</text>
<text x="103.80" y="392.46" font-size="5.3" text-anchor="end">0.8</text>
<text x="103.80" y="384.30" font-size="5.3" text-anchor="end">1.0</text>
<text x="108.60" y="431.60" font-size="5.3" text-anchor="middle">0</text>
<text x="133.90" y="431.60" font-size="5.3" text-anchor="middle">10</text>
<text x="158.90" y="431.60" font-size="5.3" text-anchor="middle">20</text>
<text x="183.60" y="431.60" font-size="5.3" text-anchor="middle">30</text>
<text x="141.00" y="439.50" font-size="5.73" text-anchor="middle">Age at first cancer diagnosis</text>
<text x="141.00" y="446.50" font-size="5.73" text-anchor="middle">(years)</text>
<polyline points="108.52,424.08 110.85,423.87 112.33,423.23 113.81,421.75 115.50,419.85 117.62,418.16 119.73,416.25 121.85,414.77 125.02,412.02 126.71,409.48 128.19,406.73 131.37,402.50 134.54,397.85 137.71,395.31 140.89,392.98 145.12,390.65 149.35,388.75 154.64,387.27 159.93,386.00 166.27,384.94 172.62,384.10 177.91,383.46 183.20,383.25" fill="none" stroke="#a184c4" stroke-width="0.8" stroke-linejoin="round"/>
<line x1="213.50" y1="380.80" x2="213.50" y2="425.85" stroke="#231f20" stroke-width="0.5"/>
<line x1="213.25" y1="425.60" x2="291.30" y2="425.60" stroke="#231f20" stroke-width="0.5"/>
<text x="211.70" y="425.00" font-size="5.3" text-anchor="end">0.0</text>
<text x="211.70" y="416.88" font-size="5.3" text-anchor="end">0.2</text>
<text x="211.70" y="408.76" font-size="5.3" text-anchor="end">0.4</text>
<text x="211.70" y="400.64" font-size="5.3" text-anchor="end">0.6</text>
<text x="211.70" y="392.52" font-size="5.3" text-anchor="end">0.8</text>
<text x="211.70" y="384.40" font-size="5.3" text-anchor="end">1.0</text>
<text x="215.80" y="431.60" font-size="5.3" text-anchor="middle">0</text>
<text x="241.00" y="431.60" font-size="5.3" text-anchor="middle">10</text>
<text x="265.90" y="431.60" font-size="5.3" text-anchor="middle">20</text>
<text x="290.90" y="431.60" font-size="5.3" text-anchor="middle">30</text>
<text x="247.60" y="439.50" font-size="5.73" text-anchor="middle">Age at first cancer diagnosis</text>
<text x="247.60" y="446.50" font-size="5.73" text-anchor="middle">(years)</text>
<polyline points="215.79,423.72 220.44,423.72 221.50,421.39 224.67,419.91 225.73,418.85 227.85,418.43 229.96,418.43 231.02,416.74 232.08,415.68 234.19,412.93 235.25,411.45 236.31,408.70 237.37,406.16 238.43,404.68 239.48,404.04 240.96,401.50 242.66,398.75 244.77,395.16 246.89,391.77 248.58,390.93 250.06,390.29 251.54,389.66 253.23,388.81 254.29,387.96 255.35,387.12 271.22,387.12 272.27,386.27 277.56,385.85 278.62,385.43 282.85,385.00 283.91,384.58 288.14,384.58" fill="none" stroke="#5a6ab2" stroke-width="0.8" stroke-linejoin="round"/>
<line x1="320.10" y1="379.10" x2="320.10" y2="425.85" stroke="#231f20" stroke-width="0.5"/>
<line x1="319.85" y1="425.60" x2="394.10" y2="425.60" stroke="#231f20" stroke-width="0.5"/>
<text x="318.30" y="425.00" font-size="5.3" text-anchor="end">0.0</text>
<text x="318.30" y="416.88" font-size="5.3" text-anchor="end">0.2</text>
<text x="318.30" y="408.76" font-size="5.3" text-anchor="end">0.4</text>
<text x="318.30" y="400.64" font-size="5.3" text-anchor="end">0.6</text>
<text x="318.30" y="392.52" font-size="5.3" text-anchor="end">0.8</text>
<text x="318.30" y="384.40" font-size="5.3" text-anchor="end">1.0</text>
<text x="322.60" y="431.60" font-size="5.3" text-anchor="middle">0</text>
<text x="347.60" y="431.60" font-size="5.3" text-anchor="middle">10</text>
<text x="372.60" y="431.60" font-size="5.3" text-anchor="middle">20</text>
<text x="394.80" y="431.60" font-size="5.3" text-anchor="middle">30</text>
<text x="353.40" y="439.50" font-size="5.73" text-anchor="middle">Age at first cancer diagnosis</text>
<text x="353.40" y="446.50" font-size="5.73" text-anchor="middle">(years)</text>
<polyline points="322.64,423.29 326.44,423.29 326.44,420.54 328.56,420.54 328.56,413.56 336.39,413.56 336.39,410.39 338.50,410.39 338.50,404.47 339.56,404.47 339.56,399.81 342.31,399.81 342.31,396.64 344.43,396.64 344.43,392.83 346.12,392.83 346.12,389.66 349.71,389.66 349.71,386.06 351.83,386.06 351.83,384.58 352.89,382.89" fill="none" stroke="#d65fa3" stroke-width="0.8"/>
<line x1="419.80" y1="380.30" x2="419.80" y2="425.85" stroke="#231f20" stroke-width="0.5"/>
<line x1="419.55" y1="425.60" x2="498.70" y2="425.60" stroke="#231f20" stroke-width="0.5"/>
<text x="418.00" y="425.00" font-size="5.3" text-anchor="end">0.0</text>
<text x="418.00" y="416.88" font-size="5.3" text-anchor="end">0.2</text>
<text x="418.00" y="408.76" font-size="5.3" text-anchor="end">0.4</text>
<text x="418.00" y="400.64" font-size="5.3" text-anchor="end">0.6</text>
<text x="418.00" y="392.52" font-size="5.3" text-anchor="end">0.8</text>
<text x="418.00" y="384.40" font-size="5.3" text-anchor="end">1.0</text>
<text x="422.50" y="431.60" font-size="5.3" text-anchor="middle">0</text>
<text x="446.80" y="431.60" font-size="5.3" text-anchor="middle">10</text>
<text x="470.90" y="431.60" font-size="5.3" text-anchor="middle">20</text>
<text x="495.90" y="431.60" font-size="5.3" text-anchor="middle">30</text>
<text x="459.20" y="439.50" font-size="5.73" text-anchor="middle">Age at first cancer diagnosis</text>
<text x="459.20" y="446.50" font-size="5.73" text-anchor="middle">(years)</text>
<polyline points="422.50,423.29 428.21,423.29 428.21,415.68 429.27,415.68 429.27,407.22 434.14,407.22 434.14,399.18 436.67,399.18 436.67,390.72 444.08,390.72 444.08,382.46" fill="none" stroke="#b5c574" stroke-width="0.8"/>
<path d="M145.80,489.20 L145.80,465.80 A23.4,23.4 0 0 1 147.27,512.55 Z" fill="#b3c7e8" stroke="#fff" stroke-width="0.7" stroke-linejoin="round"/>
<path d="M145.80,489.20 L147.27,512.55 A23.4,23.4 0 0 1 122.81,493.58 Z" fill="#b5cf8a" stroke="#fff" stroke-width="0.7" stroke-linejoin="round"/>
<path d="M145.80,489.20 L122.81,493.58 A23.4,23.4 0 0 1 132.05,470.27 Z" fill="#efb27e" stroke="#fff" stroke-width="0.7" stroke-linejoin="round"/>
<path d="M145.80,489.20 L132.05,470.27 A23.4,23.4 0 0 1 145.80,465.80 Z" fill="#b4b9d3" stroke="#fff" stroke-width="0.7" stroke-linejoin="round"/>
<circle cx="145.8" cy="489.2" r="23.4" fill="none" stroke="#fff" stroke-width="0.8999999999999999"/>
<text x="122.30" y="467.00" font-size="5.3" text-anchor="middle">Other</text>
<text x="122.30" y="473.40" font-size="5.3" text-anchor="middle">10%</text>
<text x="132.60" y="482.90" font-size="5.3" text-anchor="middle">Hem</text>
<text x="132.60" y="489.10" font-size="5.3" text-anchor="middle">18%</text>
<text x="137.70" y="498.30" font-size="5.3" text-anchor="middle">GI</text>
<text x="137.70" y="504.50" font-size="5.3" text-anchor="middle">23%</text>
<text x="159.50" y="487.10" font-size="5.3" text-anchor="middle">CNS</text>
<text x="159.50" y="493.20" font-size="5.3" text-anchor="middle">49%</text>
<path d="M129.4,465.4 C133,465.6 135.6,467 137.8,469.6" fill="none" stroke="#231f20" stroke-width="0.5"/>
<path d="M250.10,489.30 L250.10,465.80 A23.5,23.5 0 1 1 242.84,511.65 Z" fill="#b3c7e8" stroke="#fff" stroke-width="0.7" stroke-linejoin="round"/>
<path d="M250.10,489.30 L242.84,511.65 A23.5,23.5 0 0 1 227.34,495.14 Z" fill="#b5cf8a" stroke="#fff" stroke-width="0.7" stroke-linejoin="round"/>
<path d="M250.10,489.30 L227.34,495.14 A23.5,23.5 0 0 1 241.45,467.45 Z" fill="#efb27e" stroke="#fff" stroke-width="0.7" stroke-linejoin="round"/>
<path d="M250.10,489.30 L241.45,467.45 A23.5,23.5 0 0 1 250.10,465.80 Z" fill="#b4b9d3" stroke="#fff" stroke-width="0.7" stroke-linejoin="round"/>
<circle cx="250.1" cy="489.3" r="23.5" fill="none" stroke="#fff" stroke-width="0.8999999999999999"/>
<text x="229.00" y="463.90" font-size="5.3" text-anchor="middle">Other</text>
<text x="229.00" y="470.30" font-size="5.3" text-anchor="middle">6%</text>
<text x="237.60" y="481.30" font-size="5.3" text-anchor="middle">Hem</text>
<text x="237.60" y="487.40" font-size="5.3" text-anchor="middle">23%</text>
<text x="238.60" y="498.60" font-size="5.3" text-anchor="middle">GI</text>
<text x="238.60" y="505.00" font-size="5.3" text-anchor="middle">16%</text>
<text x="261.90" y="489.30" font-size="5.3" text-anchor="middle">CNS</text>
<text x="261.90" y="495.40" font-size="5.3" text-anchor="middle">55%</text>
<path d="M237.6,463 C241,463.2 243.6,464.6 245.6,467.6" fill="none" stroke="#231f20" stroke-width="0.5"/>
<path d="M356.10,489.30 L356.10,465.80 A23.5,23.5 0 0 1 356.10,512.80 Z" fill="#b3c7e8" stroke="#fff" stroke-width="0.7" stroke-linejoin="round"/>
<path d="M356.10,489.30 L356.10,512.80 A23.5,23.5 0 0 1 335.51,477.98 Z" fill="#b5cf8a" stroke="#fff" stroke-width="0.7" stroke-linejoin="round"/>
<path d="M356.10,489.30 L335.51,477.98 A23.5,23.5 0 0 1 341.12,471.19 Z" fill="#efb27e" stroke="#fff" stroke-width="0.7" stroke-linejoin="round"/>
<path d="M356.10,489.30 L341.12,471.19 A23.5,23.5 0 0 1 356.10,465.80 Z" fill="#b4b9d3" stroke="#fff" stroke-width="0.7" stroke-linejoin="round"/>
<circle cx="356.1" cy="489.3" r="23.5" fill="none" stroke="#fff" stroke-width="0.8999999999999999"/>
<text x="331.80" y="463.90" font-size="5.3" text-anchor="middle">Other</text>
<text x="331.80" y="470.30" font-size="5.3" text-anchor="middle">11%</text>
<text x="320.00" y="480.20" font-size="5.3" text-anchor="middle">Hem</text>
<text x="320.00" y="486.30" font-size="5.3" text-anchor="middle">6%</text>
<text x="347.20" y="496.00" font-size="5.3" text-anchor="middle">GI</text>
<text x="347.20" y="502.10" font-size="5.3" text-anchor="middle">33%</text>
<text x="368.20" y="488.20" font-size="5.3" text-anchor="middle">CNS</text>
<text x="368.20" y="494.50" font-size="5.3" text-anchor="middle">50%</text>
<path d="M340.4,466.2 C343.4,466 345.8,467 348.4,469" fill="none" stroke="#231f20" stroke-width="0.5"/>
<path d="M327,478.6 C331,479 334.6,476.6 338.6,473.4" fill="none" stroke="#231f20" stroke-width="0.5"/>
<path d="M470.10,489.30 L470.10,466.00 A23.3,23.3 0 1 1 449.68,500.52 Z" fill="#b3c7e8" stroke="#fff" stroke-width="0.7" stroke-linejoin="round"/>
<path d="M470.10,489.30 L449.68,500.52 A23.3,23.3 0 0 1 470.10,466.00 Z" fill="#b5cf8a" stroke="#fff" stroke-width="0.7" stroke-linejoin="round"/>
<circle cx="470.1" cy="489.3" r="23.3" fill="none" stroke="#fff" stroke-width="0.8999999999999999"/>
<text x="452.40" y="457.30" font-size="5.3" text-anchor="middle">Other</text>
<text x="452.40" y="463.40" font-size="5.3" text-anchor="middle">0%</text>
<text x="435.40" y="464.80" font-size="5.3" text-anchor="middle">Hem</text>
<text x="435.40" y="471.20" font-size="5.3" text-anchor="middle">0%</text>
<text x="460.60" y="480.20" font-size="5.3" text-anchor="middle">GI</text>
<text x="460.60" y="487.00" font-size="5.3" text-anchor="middle">33%</text>
<text x="481.80" y="490.30" font-size="5.3" text-anchor="middle">CNS</text>
<text x="481.80" y="497.10" font-size="5.3" text-anchor="middle">67%</text>
<path d="M460.4,458 C464.6,457.6 466.6,461 469.8,466.6" fill="none" stroke="#231f20" stroke-width="0.5"/>
<path d="M442.4,464 C452,464.6 461,465.4 469.8,466.8" fill="none" stroke="#231f20" stroke-width="0.5"/>
<line x1="104.90" y1="524.50" x2="104.90" y2="571.25" stroke="#231f20" stroke-width="0.5"/>
<line x1="104.65" y1="571.00" x2="184.90" y2="571.00" stroke="#231f20" stroke-width="0.5"/>
<text x="102.70" y="569.40" font-size="5.3" text-anchor="end">0</text>
<line x1="103.10" y1="567.50" x2="104.90" y2="567.50" stroke="#231f20" stroke-width="0.5"/>
<text x="102.70" y="558.92" font-size="5.3" text-anchor="end">25</text>
<line x1="103.10" y1="557.02" x2="104.90" y2="557.02" stroke="#231f20" stroke-width="0.5"/>
<text x="102.70" y="548.45" font-size="5.3" text-anchor="end">50</text>
<line x1="103.10" y1="546.55" x2="104.90" y2="546.55" stroke="#231f20" stroke-width="0.5"/>
<text x="102.70" y="537.98" font-size="5.3" text-anchor="end">75</text>
<line x1="103.10" y1="536.08" x2="104.90" y2="536.08" stroke="#231f20" stroke-width="0.5"/>
<text x="102.70" y="527.50" font-size="5.3" text-anchor="end">100</text>
<line x1="103.10" y1="525.60" x2="104.90" y2="525.60" stroke="#231f20" stroke-width="0.5"/>
<text x="109.60" y="577.20" font-size="5.3" text-anchor="middle">0</text>
<text x="134.50" y="577.20" font-size="5.3" text-anchor="middle">10</text>
<text x="158.90" y="577.20" font-size="5.3" text-anchor="middle">20</text>
<text x="183.60" y="577.20" font-size="5.3" text-anchor="middle">30</text>
<line x1="109.60" y1="571.00" x2="109.60" y2="572.40" stroke="#231f20" stroke-width="0.5"/>
<line x1="122.05" y1="571.00" x2="122.05" y2="572.40" stroke="#231f20" stroke-width="0.5"/>
<line x1="134.50" y1="571.00" x2="134.50" y2="572.40" stroke="#231f20" stroke-width="0.5"/>
<line x1="146.95" y1="571.00" x2="146.95" y2="572.40" stroke="#231f20" stroke-width="0.5"/>
<line x1="159.40" y1="571.00" x2="159.40" y2="572.40" stroke="#231f20" stroke-width="0.5"/>
<line x1="171.85" y1="571.00" x2="171.85" y2="572.40" stroke="#231f20" stroke-width="0.5"/>
<line x1="184.30" y1="571.00" x2="184.30" y2="572.40" stroke="#231f20" stroke-width="0.5"/>
<text x="144.80" y="585.30" font-size="5.8" text-anchor="middle">Years from birth</text>
<polyline points="109.16,527.06 119.73,527.27 122.91,528.33 126.08,529.81 128.19,531.29 130.31,532.98 132.43,534.89 134.54,536.79 136.66,537.64 138.77,538.69 141.95,540.60 145.12,542.50 148.29,545.04 151.47,547.79 153.58,549.48 155.70,550.96 158.87,551.39 160.35,552.23 162.04,553.08 165.22,553.71 170.50,554.77 173.68,554.98 176.85,555.62 181.08,555.83 184.26,556.25 185.31,556.89" fill="none" stroke="#a184c4" stroke-width="0.8" stroke-linejoin="round"/>
<line x1="217.30" y1="521.40" x2="217.30" y2="571.85" stroke="#231f20" stroke-width="0.5"/>
<line x1="217.05" y1="571.60" x2="285.40" y2="571.60" stroke="#231f20" stroke-width="0.5"/>
<text x="215.10" y="569.90" font-size="5.3" text-anchor="end">0</text>
<line x1="215.50" y1="568.00" x2="217.30" y2="568.00" stroke="#231f20" stroke-width="0.5"/>
<text x="215.10" y="558.67" font-size="5.3" text-anchor="end">25</text>
<line x1="215.50" y1="556.77" x2="217.30" y2="556.77" stroke="#231f20" stroke-width="0.5"/>
<text x="215.10" y="547.45" font-size="5.3" text-anchor="end">50</text>
<line x1="215.50" y1="545.55" x2="217.30" y2="545.55" stroke="#231f20" stroke-width="0.5"/>
<text x="215.10" y="536.23" font-size="5.3" text-anchor="end">75</text>
<line x1="215.50" y1="534.33" x2="217.30" y2="534.33" stroke="#231f20" stroke-width="0.5"/>
<text x="215.10" y="525.00" font-size="5.3" text-anchor="end">100</text>
<line x1="215.50" y1="523.10" x2="217.30" y2="523.10" stroke="#231f20" stroke-width="0.5"/>
<text x="220.90" y="577.20" font-size="5.3" text-anchor="middle">0</text>
<text x="242.20" y="577.20" font-size="5.3" text-anchor="middle">10</text>
<text x="262.80" y="577.20" font-size="5.3" text-anchor="middle">20</text>
<text x="283.50" y="577.20" font-size="5.3" text-anchor="middle">30</text>
<line x1="220.90" y1="571.60" x2="220.90" y2="573.00" stroke="#231f20" stroke-width="0.5"/>
<line x1="231.55" y1="571.60" x2="231.55" y2="573.00" stroke="#231f20" stroke-width="0.5"/>
<line x1="242.20" y1="571.60" x2="242.20" y2="573.00" stroke="#231f20" stroke-width="0.5"/>
<line x1="252.85" y1="571.60" x2="252.85" y2="573.00" stroke="#231f20" stroke-width="0.5"/>
<line x1="263.50" y1="571.60" x2="263.50" y2="573.00" stroke="#231f20" stroke-width="0.5"/>
<line x1="274.15" y1="571.60" x2="274.15" y2="573.00" stroke="#231f20" stroke-width="0.5"/>
<line x1="284.80" y1="571.60" x2="284.80" y2="573.00" stroke="#231f20" stroke-width="0.5"/>
<text x="250.80" y="585.30" font-size="5.8" text-anchor="middle">Years from birth</text>
<polyline points="220.44,524.62 226.79,524.62 228.91,526.74 232.08,528.43 235.25,528.85 237.37,531.39 240.54,533.08 243.71,533.08 244.77,536.26 246.89,538.37 248.58,542.60 250.06,545.78 251.54,548.95 253.23,551.49 257.47,552.12 258.52,553.81 262.12,553.81 262.75,555.51 265.93,555.93 266.98,557.83 277.56,557.83 277.99,561.64 284.97,561.64" fill="none" stroke="#5a6ab2" stroke-width="0.8" stroke-linejoin="round"/>
<line x1="322.20" y1="521.40" x2="322.20" y2="571.85" stroke="#231f20" stroke-width="0.5"/>
<line x1="321.95" y1="571.60" x2="391.40" y2="571.60" stroke="#231f20" stroke-width="0.5"/>
<text x="320.00" y="569.90" font-size="5.3" text-anchor="end">0</text>
<line x1="320.40" y1="568.00" x2="322.20" y2="568.00" stroke="#231f20" stroke-width="0.5"/>
<text x="320.00" y="558.67" font-size="5.3" text-anchor="end">25</text>
<line x1="320.40" y1="556.77" x2="322.20" y2="556.77" stroke="#231f20" stroke-width="0.5"/>
<text x="320.00" y="547.45" font-size="5.3" text-anchor="end">50</text>
<line x1="320.40" y1="545.55" x2="322.20" y2="545.55" stroke="#231f20" stroke-width="0.5"/>
<text x="320.00" y="536.23" font-size="5.3" text-anchor="end">75</text>
<line x1="320.40" y1="534.33" x2="322.20" y2="534.33" stroke="#231f20" stroke-width="0.5"/>
<text x="320.00" y="525.00" font-size="5.3" text-anchor="end">100</text>
<line x1="320.40" y1="523.10" x2="322.20" y2="523.10" stroke="#231f20" stroke-width="0.5"/>
<text x="325.80" y="577.20" font-size="5.3" text-anchor="middle">0</text>
<text x="347.60" y="577.20" font-size="5.3" text-anchor="middle">10</text>
<text x="368.80" y="577.20" font-size="5.3" text-anchor="middle">20</text>
<text x="390.30" y="577.20" font-size="5.3" text-anchor="middle">30</text>
<line x1="325.80" y1="571.60" x2="325.80" y2="573.00" stroke="#231f20" stroke-width="0.5"/>
<line x1="336.70" y1="571.60" x2="336.70" y2="573.00" stroke="#231f20" stroke-width="0.5"/>
<line x1="347.60" y1="571.60" x2="347.60" y2="573.00" stroke="#231f20" stroke-width="0.5"/>
<line x1="358.50" y1="571.60" x2="358.50" y2="573.00" stroke="#231f20" stroke-width="0.5"/>
<line x1="369.40" y1="571.60" x2="369.40" y2="573.00" stroke="#231f20" stroke-width="0.5"/>
<line x1="380.30" y1="571.60" x2="380.30" y2="573.00" stroke="#231f20" stroke-width="0.5"/>
<line x1="391.20" y1="571.60" x2="391.20" y2="573.00" stroke="#231f20" stroke-width="0.5"/>
<text x="357.40" y="585.30" font-size="5.8" text-anchor="middle">Years from birth</text>
<polyline points="325.39,524.62 333.21,524.62 333.21,527.79 335.54,527.79 335.54,532.02 338.08,532.02 338.08,536.26 339.56,536.26 339.56,539.43 343.37,539.43 343.37,543.66 346.12,543.66 346.12,554.24 351.41,554.24 351.41,559.53 386.74,559.53" fill="none" stroke="#d65fa3" stroke-width="0.8"/>
<line x1="428.80" y1="520.40" x2="428.80" y2="571.45" stroke="#231f20" stroke-width="0.5"/>
<line x1="428.55" y1="571.20" x2="497.00" y2="571.20" stroke="#231f20" stroke-width="0.5"/>
<text x="426.60" y="569.50" font-size="5.3" text-anchor="end">0</text>
<line x1="427.00" y1="567.60" x2="428.80" y2="567.60" stroke="#231f20" stroke-width="0.5"/>
<text x="426.60" y="557.95" font-size="5.3" text-anchor="end">25</text>
<line x1="427.00" y1="556.05" x2="428.80" y2="556.05" stroke="#231f20" stroke-width="0.5"/>
<text x="426.60" y="546.40" font-size="5.3" text-anchor="end">50</text>
<line x1="427.00" y1="544.50" x2="428.80" y2="544.50" stroke="#231f20" stroke-width="0.5"/>
<text x="426.60" y="534.85" font-size="5.3" text-anchor="end">75</text>
<line x1="427.00" y1="532.95" x2="428.80" y2="532.95" stroke="#231f20" stroke-width="0.5"/>
<text x="426.60" y="523.30" font-size="5.3" text-anchor="end">100</text>
<line x1="427.00" y1="521.40" x2="428.80" y2="521.40" stroke="#231f20" stroke-width="0.5"/>
<text x="432.90" y="577.20" font-size="5.3" text-anchor="middle">0</text>
<text x="454.20" y="577.20" font-size="5.3" text-anchor="middle">10</text>
<text x="474.80" y="577.20" font-size="5.3" text-anchor="middle">20</text>
<text x="495.50" y="577.20" font-size="5.3" text-anchor="middle">30</text>
<line x1="432.90" y1="571.20" x2="432.90" y2="572.60" stroke="#231f20" stroke-width="0.5"/>
<line x1="443.55" y1="571.20" x2="443.55" y2="572.60" stroke="#231f20" stroke-width="0.5"/>
<line x1="454.20" y1="571.20" x2="454.20" y2="572.60" stroke="#231f20" stroke-width="0.5"/>
<line x1="464.85" y1="571.20" x2="464.85" y2="572.60" stroke="#231f20" stroke-width="0.5"/>
<line x1="475.50" y1="571.20" x2="475.50" y2="572.60" stroke="#231f20" stroke-width="0.5"/>
<line x1="486.15" y1="571.20" x2="486.15" y2="572.60" stroke="#231f20" stroke-width="0.5"/>
<line x1="496.80" y1="571.20" x2="496.80" y2="572.60" stroke="#231f20" stroke-width="0.5"/>
<text x="463.40" y="585.30" font-size="5.8" text-anchor="middle">Years from birth</text>
<polyline points="432.44,522.50 438.79,522.50 438.79,532.02 441.33,532.02 441.33,541.54 445.14,541.54 445.14,555.30 461.00,555.30 461.00,568.41" fill="none" stroke="#b5c574" stroke-width="0.8"/>
<text x="9.00" y="619.20" font-size="13" font-weight="bold" fill="#000">D</text>
<text x="86.00" y="613.50" font-size="6.4" font-weight="bold" fill="#000">Test Sensitivity to detect MMR deficiency</text>
<line x1="56.80" y1="716.20" x2="240.50" y2="716.20" stroke="#7c8282" stroke-width="0.8"/>
<text x="54.70" y="718.20" font-size="5.55" text-anchor="end">0%</text>
<line x1="56.80" y1="707.91" x2="240.50" y2="707.91" stroke="#c3c9c9" stroke-width="0.6"/>
<text x="54.70" y="709.91" font-size="5.55" text-anchor="end">10%</text>
<line x1="56.80" y1="699.62" x2="240.50" y2="699.62" stroke="#c3c9c9" stroke-width="0.6"/>
<text x="54.70" y="701.62" font-size="5.55" text-anchor="end">20%</text>
<line x1="56.80" y1="691.33" x2="240.50" y2="691.33" stroke="#c3c9c9" stroke-width="0.6"/>
<text x="54.70" y="693.33" font-size="5.55" text-anchor="end">30%</text>
<line x1="56.80" y1="683.04" x2="240.50" y2="683.04" stroke="#c3c9c9" stroke-width="0.6"/>
<text x="54.70" y="685.04" font-size="5.55" text-anchor="end">40%</text>
<line x1="56.80" y1="674.75" x2="240.50" y2="674.75" stroke="#c3c9c9" stroke-width="0.6"/>
<text x="54.70" y="676.75" font-size="5.55" text-anchor="end">50%</text>
<line x1="56.80" y1="666.46" x2="240.50" y2="666.46" stroke="#c3c9c9" stroke-width="0.6"/>
<text x="54.70" y="668.46" font-size="5.55" text-anchor="end">60%</text>
<line x1="56.80" y1="658.17" x2="240.50" y2="658.17" stroke="#c3c9c9" stroke-width="0.6"/>
<text x="54.70" y="660.17" font-size="5.55" text-anchor="end">70%</text>
<line x1="56.80" y1="649.88" x2="240.50" y2="649.88" stroke="#c3c9c9" stroke-width="0.6"/>
<text x="54.70" y="651.88" font-size="5.55" text-anchor="end">80%</text>
<line x1="56.80" y1="641.59" x2="240.50" y2="641.59" stroke="#c3c9c9" stroke-width="0.6"/>
<text x="54.70" y="643.59" font-size="5.55" text-anchor="end">90%</text>
<line x1="56.80" y1="633.30" x2="240.50" y2="633.30" stroke="#c3c9c9" stroke-width="0.6"/>
<text x="54.70" y="635.30" font-size="5.55" text-anchor="end">100%</text>
<line x1="56.80" y1="628.30" x2="56.80" y2="716.50" stroke="#8d9393" stroke-width="0.7"/>
<rect x="62.2" y="704.84" width="15.6" height="11.36" fill="#546ab0"/>
<rect x="88.3" y="650.29" width="15.6" height="65.91" fill="#546ab0"/>
<rect x="114" y="645.49" width="15.6" height="70.71" fill="#546ab0"/>
<rect x="140.2" y="633.30" width="15.6" height="82.90" fill="#7eb88c"/>
<rect x="166" y="633.30" width="15.6" height="82.90" fill="#7eb88c"/>
<rect x="191.6" y="633.30" width="15.6" height="82.90" fill="#7eb88c"/>
<rect x="217.7" y="633.30" width="15.6" height="82.90" fill="#7eb88c"/>
<text transform="translate(72.2,721.4) rotate(-45)" font-size="5.8" text-anchor="end"><tspan x="0" y="0.0">MSI by</tspan><tspan x="0" y="6.9">commercial panel</tspan></text>
<text transform="translate(95.6,721.8) rotate(-45)" font-size="5.8" text-anchor="end"><tspan x="0" y="0.0">High TMB</tspan></text>
<text transform="translate(122.2,720.4) rotate(-45)" font-size="5.8" text-anchor="end"><tspan x="0" y="0.0">Loss of protein</tspan><tspan x="0" y="6.9">expression</tspan></text>
<text transform="translate(148.4,721.8) rotate(-45)" font-size="5.8" text-anchor="end"><tspan x="0" y="0.0">Gallon et al (36)</tspan></text>
<text transform="translate(176.6,721.6) rotate(-45)" font-size="5.8" text-anchor="end"><tspan x="0" y="0.0">Bodo et al (68)</tspan></text>
<text transform="translate(200.8,721.2) rotate(-45)" font-size="5.8" text-anchor="end"><tspan x="0" y="0.0">Gonzales-Acosta</tspan><tspan x="0" y="6.9">et al (37)</tspan></text>
<text transform="translate(229.6,721.6) rotate(-45)" font-size="5.8" text-anchor="end"><tspan x="0" y="0.0">Chung et al (12)</tspan></text>
<polyline points="143.60,746.00 143.60,752.30 236.00,752.30 236.00,746.00" fill="none" stroke="#231f20" stroke-width="0.6"/>
<text x="189.80" y="760.00" font-size="5.8" text-anchor="middle">Functional MSI assays</text>
<text x="265.20" y="619.20" font-size="13" font-weight="bold" fill="#000">E</text>
<text x="351.60" y="613.30" font-size="6.33" font-weight="bold" fill="#000">Impact of surveillance protocol</text>
<line x1="325.80" y1="617.40" x2="325.80" y2="716.20" stroke="#4d4d4d" stroke-width="0.6"/>
<line x1="325.50" y1="716.00" x2="471.40" y2="716.00" stroke="#4d4d4d" stroke-width="0.6"/>
<line x1="323.80" y1="710.20" x2="325.80" y2="710.20" stroke="#4d4d4d" stroke-width="0.6"/>
<text x="322.40" y="712.40" font-size="5.8999999999999995" text-anchor="end">0</text>
<line x1="323.80" y1="687.55" x2="325.80" y2="687.55" stroke="#4d4d4d" stroke-width="0.6"/>
<text x="322.40" y="689.75" font-size="5.8999999999999995" text-anchor="end">25</text>
<line x1="323.80" y1="664.90" x2="325.80" y2="664.90" stroke="#4d4d4d" stroke-width="0.6"/>
<text x="322.40" y="667.10" font-size="5.8999999999999995" text-anchor="end">50</text>
<line x1="323.80" y1="642.25" x2="325.80" y2="642.25" stroke="#4d4d4d" stroke-width="0.6"/>
<text x="322.40" y="644.45" font-size="5.8999999999999995" text-anchor="end">75</text>
<line x1="323.80" y1="619.60" x2="325.80" y2="619.60" stroke="#4d4d4d" stroke-width="0.6"/>
<text x="322.40" y="621.80" font-size="5.8999999999999995" text-anchor="end">100</text>
<line x1="333.50" y1="716.00" x2="333.50" y2="718.00" stroke="#4d4d4d" stroke-width="0.6"/>
<text x="333.50" y="723.40" font-size="5.8999999999999995" text-anchor="middle">0</text>
<line x1="377.30" y1="716.00" x2="377.30" y2="718.00" stroke="#4d4d4d" stroke-width="0.6"/>
<text x="377.30" y="723.40" font-size="5.8999999999999995" text-anchor="middle">5</text>
<line x1="421.30" y1="716.00" x2="421.30" y2="718.00" stroke="#4d4d4d" stroke-width="0.6"/>
<text x="421.30" y="723.40" font-size="5.8999999999999995" text-anchor="middle">10</text>
<line x1="465.30" y1="716.00" x2="465.30" y2="718.00" stroke="#4d4d4d" stroke-width="0.6"/>
<text x="465.30" y="723.40" font-size="5.8999999999999995" text-anchor="middle">15</text>
<text transform="translate(310.2,664.6) rotate(-90)" font-size="6.3" text-anchor="middle">Survival probability</text>
<text x="400.00" y="731.80" font-size="6.3" text-anchor="middle">Time (years) from birth</text>
<text x="335.40" y="710.60" font-size="5.1">p = 0.00017</text>
<polyline points="360.92,622.31 360.92,626.92 366.15,626.92 366.15,630.00 376.92,630.00 376.92,635.23 389.23,635.23 389.23,638.31 398.46,638.31 398.46,641.38 403.08,641.38 403.08,644.46 407.69,644.46 407.69,647.85 410.77,647.85 410.77,651.54 426.15,651.54 426.15,654.62 433.23,654.62 433.23,658.62 438.46,658.62 438.46,662.31 447.69,662.31 447.69,666.00 450.77,666.00 450.77,670.00 455.38,670.00 455.38,673.69 463.08,673.69 463.08,679.23 467.69,680.77 470.15,684.77" fill="none" stroke="#d0474b" stroke-width="0.9" stroke-linejoin="round"/>
<polyline points="332.31,622.31 376.92,622.31 376.92,623.54 386.15,623.54 387.08,626.00 393.85,626.00 393.85,629.08 412.31,629.08 412.31,631.54 418.46,631.54 418.46,637.08 433.85,637.08 433.85,638.92 447.69,638.92 447.69,640.77 452.31,640.77 452.31,643.23 456.92,643.23 456.92,646.92 458.46,653.08 463.08,654.62 467.69,656.15 470.77,657.69" fill="none" stroke="#6cb6c6" stroke-width="0.9" stroke-linejoin="round"/>
<path d="M378.46,621.93 v2.2 M385.23,621.93 v2.2 M386.46,622.85 v2.2 M396.92,627.47 v2.2 M400.62,627.47 v2.2 M404.62,627.47 v2.2 M410.77,627.47 v2.2 M421.54,635.47 v2.2 M426.15,635.47 v2.2 M429.23,635.47 v2.2 M436.92,637.32 v2.2 M441.54,637.32 v2.2 M444.62,637.32 v2.2 M459.08,652.08 v2.2 M464.62,653.62 v2.2" stroke="#6cb6c6" stroke-width="0.6" fill="none"/>
<text x="326.20" y="739.00" font-size="6.3">Number at risk</text>
<text x="320.90" y="748.70" font-size="6.3" text-anchor="end" fill="#c8232c">No surveillance</text>
<text x="320.90" y="755.90" font-size="6.3" text-anchor="end" fill="#7ebdd0">Surveillance</text>
<line x1="325.20" y1="743.60" x2="325.20" y2="760.70" stroke="#4d4d4d" stroke-width="0.6"/>
<line x1="325.00" y1="760.50" x2="471.40" y2="760.50" stroke="#4d4d4d" stroke-width="0.6"/>
<line x1="323.20" y1="746.60" x2="325.20" y2="746.60" stroke="#4d4d4d" stroke-width="0.6"/>
<line x1="323.20" y1="753.80" x2="325.20" y2="753.80" stroke="#4d4d4d" stroke-width="0.6"/>
<text x="333.50" y="748.70" font-size="5.8999999999999995" text-anchor="middle">33</text>
<text x="333.50" y="755.90" font-size="5.8999999999999995" text-anchor="middle">52</text>
<text x="377.30" y="748.70" font-size="5.8999999999999995" text-anchor="middle">30</text>
<text x="377.30" y="755.90" font-size="5.8999999999999995" text-anchor="middle">51</text>
<text x="421.30" y="748.70" font-size="5.8999999999999995" text-anchor="middle">22</text>
<text x="421.30" y="755.90" font-size="5.8999999999999995" text-anchor="middle">38</text>
<text x="465.30" y="748.70" font-size="5.8999999999999995" text-anchor="middle">12</text>
<text x="465.30" y="755.90" font-size="5.8999999999999995" text-anchor="middle">23</text>
<line x1="333.50" y1="760.50" x2="333.50" y2="762.50" stroke="#4d4d4d" stroke-width="0.6"/>
<text x="333.50" y="769.90" font-size="5.8999999999999995" text-anchor="middle">0</text>
<line x1="377.30" y1="760.50" x2="377.30" y2="762.50" stroke="#4d4d4d" stroke-width="0.6"/>
<text x="377.30" y="769.90" font-size="5.8999999999999995" text-anchor="middle">5</text>
<line x1="421.30" y1="760.50" x2="421.30" y2="762.50" stroke="#4d4d4d" stroke-width="0.6"/>
<text x="421.30" y="769.90" font-size="5.8999999999999995" text-anchor="middle">10</text>
<line x1="465.30" y1="760.50" x2="465.30" y2="762.50" stroke="#4d4d4d" stroke-width="0.6"/>
<text x="465.30" y="769.90" font-size="5.8999999999999995" text-anchor="middle">15</text>
<text x="398.40" y="778.30" font-size="6.3" text-anchor="middle">Time (years)</text>
</svg>
</body></html>
